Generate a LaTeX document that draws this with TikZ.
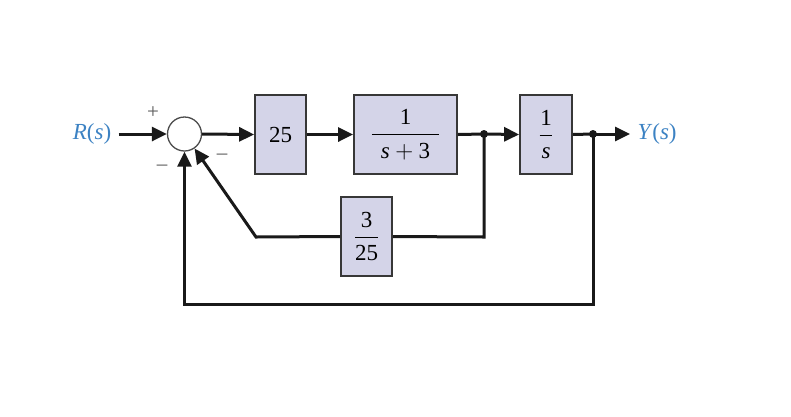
\documentclass[tikz,border=0pt]{standalone}
\usepackage{fontspec}
\setmainfont{Liberation Serif}
\usepackage{amsmath}
\usetikzlibrary{arrows.meta}
\definecolor{boxfill}{RGB}{212,212,232}
\definecolor{boxline}{RGB}{55,55,55}
\definecolor{sigblue}{RGB}{60,130,195}
\definecolor{linecol}{RGB}{25,25,25}
\tikzset{
  blk/.style={draw=boxline, line width=1.8pt, fill=boxfill, inner sep=0pt, font=\fontsize{23}{27}\selectfont},
  sig/.style={line width=3pt, draw=linecol, -{Triangle[length=15pt,width=14pt]}},
  wire/.style={line width=3pt, draw=linecol, line join=miter},
  sumnode/.style={circle, draw=black!70, line width=1.3pt, fill=white, minimum size=34pt, inner sep=0pt},
  dot/.style={circle, fill=linecol, minimum size=8pt, inner sep=0pt},
  lbl/.style={text=sigblue, font=\fontsize{23}{27}\selectfont},
  sgn/.style={text=black!65, font=\fontsize{21}{24}\selectfont}
}
\begin{document}
\begin{tikzpicture}[x=1pt,y=-1pt]
\useasboundingbox (0,0) rectangle (791,416);
\node[lbl] (R) at (92,134) {\textit{R}(\textit{s})};
\node[sumnode] (sum) at (184.5,134) {};
\node[blk, minimum width=51pt, minimum height=79pt] (g1) at (280.5,134.5) {25};
\node[blk, minimum width=103pt, minimum height=79pt] (g2) at (405.5,134.5) {$\dfrac{\text{1}}{\hspace{9pt}\textit{s}+\text{3}\hspace{9pt}}$};
\node[blk, minimum width=52pt, minimum height=79pt] (g3) at (546,134.5) {$\dfrac{\text{1}}{\hspace{2pt}\textit{s}\hspace{2pt}}$};
\node[blk, minimum width=51pt, minimum height=79pt] (h) at (366.5,236.5) {$\dfrac{\text{3}}{\text{25}}$};
\node[dot] (j1) at (484,134) {};
\node[dot] (j2) at (593,134) {};
\coordinate (yend) at (630,134);
\node[lbl, anchor=west] (Y) at (634,134) {\textit{Y}(\textit{s})};
\coordinate (c1) at (484,237);
\coordinate (c2) at (256,237);
\coordinate (c3) at (593,304);
\coordinate (c4) at (184.5,304);
\node[sgn] (plus) at (153,113) {+};
\node[sgn] (m1) at (162,168) {--};
\node[sgn] (m2) at (222,157) {--};
\draw[sig] (R.east) ++(4pt,0) -- (sum.west);
\draw[sig] (sum.east) -- (g1.west);
\draw[sig] (g1.east) -- (g2.west);
\draw[wire] (g2.east) -- (j1.center);
\draw[sig] (j1.center) -- (g3.west);
\draw[wire] (g3.east) -- (j2.center);
\draw[sig] (j2.center) -- (yend);
\draw[wire] (j1.center) -- (c1) -- (h.east);
\draw[sig] (h.west) -- (c2) -- (sum);
\draw[sig] (j2.center) -- (c3) -- (c4) -- (sum.south);
\end{tikzpicture}
\end{document}
